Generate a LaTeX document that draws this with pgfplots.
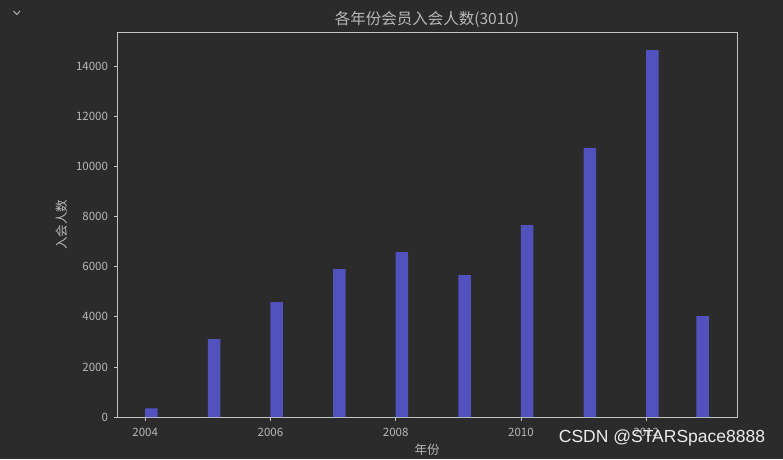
\documentclass[border=0pt]{standalone}
\usepackage{fontspec}
\setmainfont{Noto Sans CJK SC}
\newfontfamily\wmfont{Liberation Sans}
\usepackage{pgfplots}
\pgfplotsset{compat=1.18}
\definecolor{bg}{HTML}{2B2B2B}
\definecolor{barc}{HTML}{5252BF}
\definecolor{fg}{HTML}{B8B8B8}
\definecolor{framec}{HTML}{C4C4C4}
\begin{document}
\begin{tikzpicture}
\fill[bg] (0pt,0pt) rectangle (783pt,459pt);
\useasboundingbox (0pt,0pt) rectangle (783pt,459pt);
\draw[fg, line width=0.9pt] (13.5pt,448pt) -- (16.75pt,444.5pt) -- (20pt,448pt);
\begin{axis}[
    at={(117pt,42pt)}, anchor=south west,
    scale only axis,
    width=620pt, height=385pt,
    xmin=2003.55, xmax=2013.45,
    ymin=0, ymax=15376,
    axis line style={framec, line width=0.8pt},
    tick style={framec, line width=0.8pt},
    tick align=outside,
    major tick length=3.5pt,
    xtick={2004,2006,...,2012},
    ytick={0,2000,...,14000},
    xtick pos=bottom, ytick pos=left,
    ticklabel style={fg, font=\fontsize{11.5}{13}\selectfont},
    xticklabel style={yshift=-4pt},
    yticklabel style={xshift=-2pt},
    /pgf/number format/assume math mode=true,
    /pgf/number format/1000 sep={},
    scaled y ticks=false,
    title={各年份会员入会人数(3010)},
    title style={fg, font=\fontsize{15.5}{18}\selectfont, at={(0.5,1)}, anchor=center, inner sep=0pt, yshift=7pt},
    xlabel={年份},
    ylabel={入会人数},
    xlabel style={fg, font=\fontsize{12.5}{14}\selectfont, at={(0.5,0)}, anchor=center, inner sep=0pt, yshift=-33pt},
    ylabel style={fg, font=\fontsize{12.5}{14}\selectfont, at={(0,0.5)}, anchor=center, inner sep=0pt, yshift=55pt},
    ybar, bar width=0.2,
]
\addplot[fill=barc, draw=none] coordinates {
    (2004.1,347) (2005.1,3107) (2006.1,4587) (2007.1,5907) (2008.1,6587)
    (2009.1,5667) (2010.1,7667) (2011.1,10747) (2012.1,14650) (2012.9,4027)
};
\end{axis}
\node[text=white!85!gray, font=\wmfont\fontsize{17.5}{20}\selectfont, inner sep=0pt] at (662pt,21pt) {CSDN @STARSpace8888};
\end{tikzpicture}
\end{document}
